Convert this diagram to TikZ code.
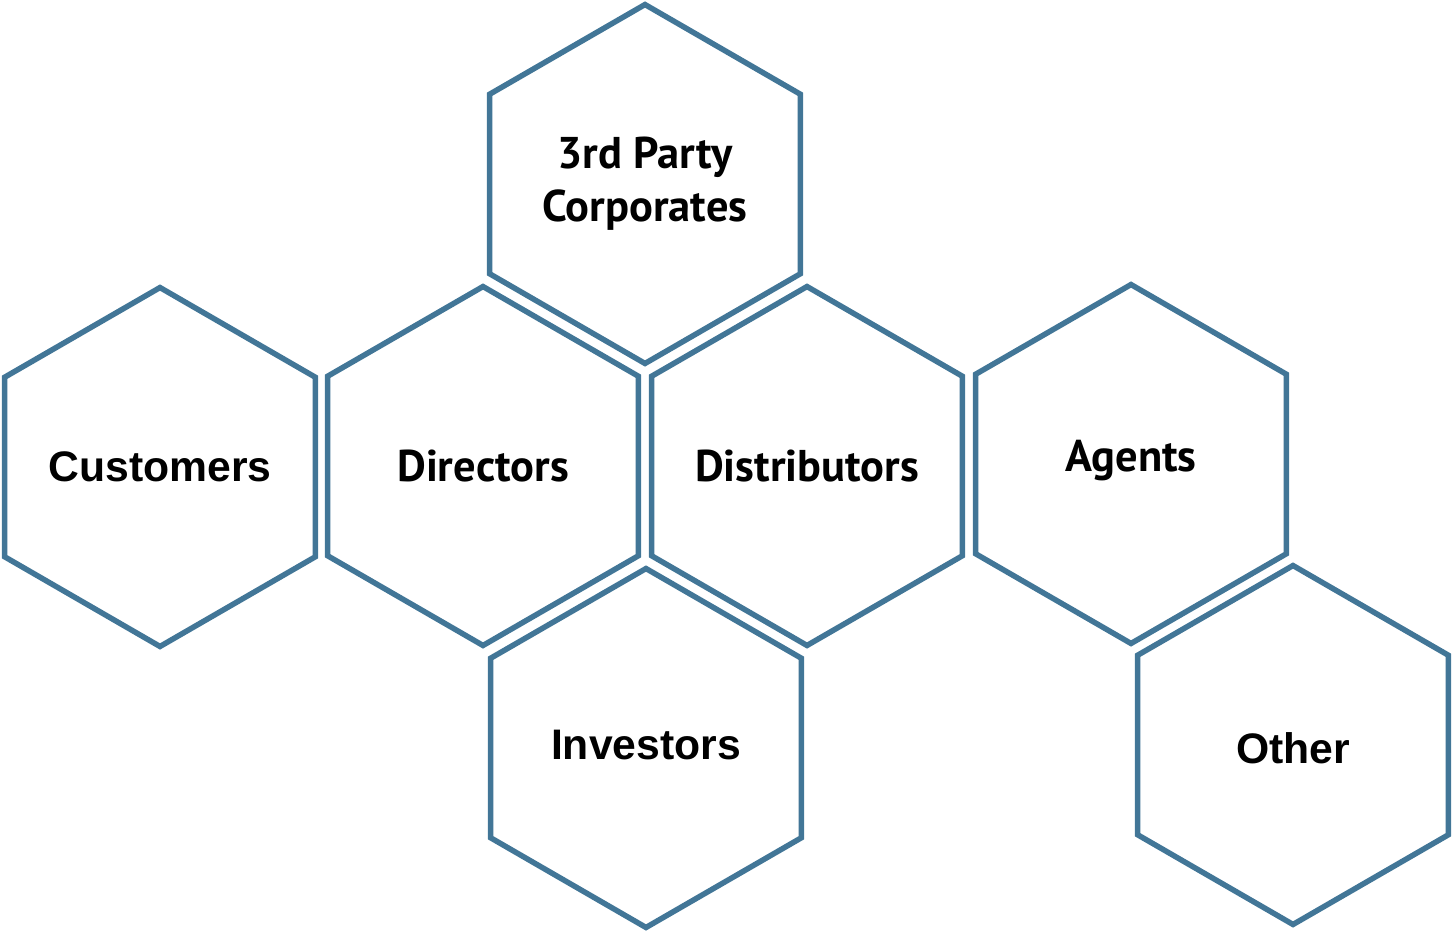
\documentclass[tikz,border=0pt]{standalone}
\usepackage{fontspec}
\setmainfont{Liberation Sans}
\newfontfamily\hexsans{PT Sans}
\usetikzlibrary{shapes.geometric}
\definecolor{HexBlue}{RGB}{66,118,151}

\begin{document}
\begin{tikzpicture}[x=0.02cm,y=-0.02cm,
	hexa/.style={regular polygon,regular polygon sides=6,shape border rotate=30,
		draw=HexBlue,line width=0.11cm,fill=white,inner sep=0pt,minimum size=7.18cm},
	hexlabel/.style={align=center,inner sep=0pt,font=\fontsize{24.3}{30}\selectfont\bfseries},
	hexlabelb/.style={hexlabel,font=\hexsans\fontsize{25.3}{30}\selectfont\bfseries}]
	\useasboundingbox (0,0) rectangle (1453,933);
	% hexagons
	\node [hexa,name=customers] at (160,467) {};
	\node [hexa,name=directors] at (483,466) {};
	\node [hexa,name=corporates] at (645,184) {};
	\node [hexa,name=distributors] at (807,466) {};
	\node [hexa,name=agents] at (1131,464) {};
	\node [hexa,name=investors] at (646,748) {};
	\node [hexa,name=other] at (1293,745) {};
	% labels
	\node [hexlabel,name=customers-t] at (customers) {Customers};
	\node [hexlabelb,name=directors-t] at (directors) {Directors};
	\node [hexlabelb,name=corporates-t] at (corporates) {3rd Party\\Corporates};
	\node [hexlabelb,name=distributors-t] at (distributors) {Distributors};
	\node [hexlabelb,name=agents-t] at (1131,461) {Agents};
	\node [hexlabel,name=investors-t] at (646,745) {Investors};
	\node [hexlabel,name=other-t] at (1293,748) {Other};
\end{tikzpicture}
\end{document}
